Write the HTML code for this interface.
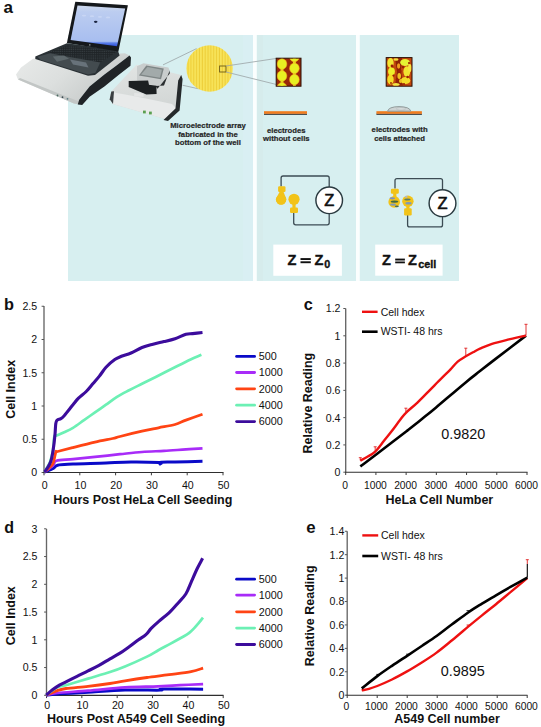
<!DOCTYPE html><html><head><meta charset="utf-8"><style>html,body{margin:0;padding:0;background:#fff;overflow:hidden;}svg{display:block;}text{font-family:"Liberation Sans",sans-serif;}</style></head><body><svg width="541" height="727" viewBox="0 0 541 727"><rect width="541" height="727" fill="#fff"/><text x="3.4" y="13.4" font-family="'Liberation Sans', sans-serif" font-weight="bold" font-size="17" fill="#111">a</text>
<rect x="68" y="35" width="391" height="246" fill="#d7eff0"/>
<rect x="243" y="35" width="10" height="246" fill="#d9eff3"/>
<rect x="257" y="35" width="6" height="246" fill="#d6ecec"/>
<rect x="253" y="35" width="3.8" height="246" fill="#fbfefe"/>
<rect x="356" y="35" width="3.8" height="246" fill="#fbfefe"/>
<defs><linearGradient id="dockg" x1="0" y1="0" x2="1" y2="0.5"><stop offset="0" stop-color="#e9ebea"/><stop offset="0.5" stop-color="#dcdfde"/><stop offset="1" stop-color="#c4c8c7"/></linearGradient><linearGradient id="scrg" x1="0" y1="0" x2="0" y2="1"><stop offset="0" stop-color="#cfdaee"/><stop offset="0.15" stop-color="#bccdf0"/><stop offset="0.88" stop-color="#a8bef0"/><stop offset="0.92" stop-color="#5a7ee8"/><stop offset="1" stop-color="#2c4cd8"/></linearGradient><linearGradient id="instg" x1="0" y1="0" x2="0.2" y2="1"><stop offset="0" stop-color="#e2e5e4"/><stop offset="1" stop-color="#d0d4d3"/></linearGradient><pattern id="stripes" x="0.5" width="2.85" height="10" patternUnits="userSpaceOnUse"><rect width="2.85" height="10" fill="#f8e45a"/><rect x="1.8" width="1.0" height="10" fill="#edcc36"/></pattern><pattern id="keys" width="2.2" height="2.2" patternUnits="userSpaceOnUse"><rect width="2.2" height="2.2" fill="#1e2326"/><rect x="0.3" y="0.3" width="1.3" height="1.2" fill="#363e42"/></pattern></defs>
<polygon points="16,74.5 21,67.5 33,58.8 125,53.2 129.5,55.4 125,59 116.2,65.7 104.4,74.6 89.6,86.4 79.2,99.7 77.7,104 74,103.5 18,79.5" fill="url(#dockg)"/>
<polygon points="18,79.5 74,103.5 77.7,104 79,101.5 20,78" fill="#c2c6c5"/>
<circle cx="57.5" cy="95.5" r="0.9" fill="#4a6a60"/>
<circle cx="62.5" cy="97.2" r="0.9" fill="#3a4a50"/>
<circle cx="67.5" cy="98.8" r="0.9" fill="#5a7a80"/>
<polygon points="129.5,55.4 131,57.5 130.5,65.7 119.2,74.6 104.4,86.4 89.6,96.8 82.2,104.9 77.7,104.6 79.2,99.7 89.6,86.4 104.4,74.6 116.2,65.7 125,59" fill="#202427"/>
<polygon points="35.3,56.4 66.9,43.3 117.8,50.3 119.6,55.6 95,74.9 88,75.8 35.3,59.1" fill="#2a3135"/>
<polygon points="47.6,52 68,45.2 116.5,51.8 108,58 100.2,62.6 60,55.2" fill="url(#keys)"/>
<polygon points="37.5,56.8 50,53.2 60,55.2 100.2,62.6 95.5,72.8 88,74.6 40.5,59.8" fill="#434b4f"/>
<polygon points="52.8,56.4 64,55.6 69,58.8 57,61.7" fill="#5e686c"/>
<polygon points="70,59.5 86,62.4 88.5,67.5 73,64.5" fill="#68727a"/>
<polygon points="75.3,1.7 127.9,5.3 118.4,51.6 66.9,43" fill="#15181b"/>
<polygon points="77.5,5.6 125.2,8.4 117,46.2 70.6,40" fill="url(#scrg)"/>
<ellipse cx="95.7" cy="21.8" rx="1.8" ry="1.1" fill="#1a2440"/>
<ellipse cx="84" cy="15.6" rx="2.2" ry="0.9" fill="#c8d6f4"/>
<ellipse cx="92" cy="16.2" rx="2.2" ry="0.9" fill="#c8d6f4"/>
<ellipse cx="100" cy="16.8" rx="2.2" ry="0.9" fill="#c8d6f4"/>
<ellipse cx="108" cy="17.4" rx="2.2" ry="0.9" fill="#c8d6f4"/>
<circle cx="89.8" cy="44.9" r="0.8" fill="#8a9090"/>
<polygon points="136.4,64.7 171,72.6 181.2,74.9 182,78.9 178.8,110.3 167.8,119.7 112.9,104 109.7,99.3 111.3,91.4" fill="url(#instg)"/>
<path d="M111.3,92 Q140,97 172,104 L176,108 L167.8,119.7 L112.9,104 L109.7,99.3 Z" fill="#e8eaea"/>
<polygon points="181.2,74.9 182.6,79 179.6,110.6 168,121 163.5,120 175.5,108.5 178.2,80.5" fill="#25292b"/>
<polygon points="111.3,91.4 114,91.2 113,104 109.7,99.3" fill="#3a3f42"/>
<polygon points="137,66.3 143.5,63.2 168.4,67.5 169.6,70.5 164,85.5 155.5,86 137,80.5" fill="#c9cdcd"/>
<polygon points="169.6,70.5 169.8,73.5 157.5,88.8 155.5,86 164,85.5" fill="#2a2e30"/>
<polygon points="146.3,65.4 163.8,68.6 161,79.3 138.9,75.6" fill="#7e8686"/>
<polygon points="147.5,67 162,69.8 159.8,77.8 141,74.6" fill="#a2aaaa"/>
<polygon points="128.7,81.1 148.1,80.6 149,84.8 156.4,85.7 156.6,94 146.3,94.5 128.7,87" fill="#1c2022"/>
<polygon points="134.2,93 143.5,93.5 143.5,96.8 134.2,96.4" fill="#e4e6e6"/>
<rect x="143" y="110.6" width="2.8" height="2.8" fill="#5aa050"/><rect x="149" y="111.6" width="2.8" height="2.8" fill="#5aa050"/>
<line x1="163" y1="64.9" x2="196.6" y2="48.6" stroke="#a2acae" stroke-width="0.9"/>
<line x1="182.4" y1="85.2" x2="198.6" y2="88.8" stroke="#a2acae" stroke-width="0.9"/>
<circle cx="209.6" cy="68.5" r="23.2" fill="url(#stripes)"/>
<rect x="219.6" y="66" width="6.4" height="6" fill="none" stroke="#6a5a18" stroke-width="0.9"/>
<line x1="226" y1="66" x2="276" y2="58.5" stroke="#a2acae" stroke-width="0.9"/>
<line x1="226" y1="72" x2="276" y2="84.4" stroke="#a2acae" stroke-width="0.9"/>
<defs><clipPath id="sq1"><rect x="276.7" y="58.7" width="23.8" height="27"/></clipPath></defs>
<rect x="276.2" y="58.2" width="24.8" height="28" fill="#98280a" stroke="#2a1004" stroke-width="1"/>
<g clip-path="url(#sq1)">
<rect x="280.6" y="58" width="2.8" height="29" fill="#e8f022"/><rect x="293" y="58" width="2.8" height="29" fill="#e8f022"/>
<ellipse cx="282" cy="64.1" rx="4.9" ry="5.3" fill="#e8f022" stroke="#f29a1c" stroke-width="0.5"/>
<ellipse cx="282" cy="75.9" rx="4.9" ry="5.3" fill="#e8f022" stroke="#f29a1c" stroke-width="0.5"/>
<ellipse cx="282" cy="87.7" rx="4.9" ry="5.3" fill="#e8f022" stroke="#f29a1c" stroke-width="0.5"/>
<ellipse cx="294.4" cy="56.6" rx="4.9" ry="5.3" fill="#e8f022" stroke="#f29a1c" stroke-width="0.5"/>
<ellipse cx="294.4" cy="68.3" rx="4.9" ry="5.3" fill="#e8f022" stroke="#f29a1c" stroke-width="0.5"/>
<ellipse cx="294.4" cy="79.6" rx="4.9" ry="5.3" fill="#e8f022" stroke="#f29a1c" stroke-width="0.5"/>
</g>
<defs><clipPath id="sq2"><rect x="386.7" y="58.1" width="24.8" height="27.6"/></clipPath></defs>
<rect x="386.2" y="57.6" width="25.8" height="28.6" fill="#c4480e" stroke="#2a1004" stroke-width="1"/>
<g clip-path="url(#sq2)">
<path d="M395,58 L402,58 L401,70 L403,86 L395,86 L397,72 Z" fill="#8e2206"/>
<ellipse cx="390.5" cy="63" rx="3.2" ry="5" fill="#f2e632"/>
<ellipse cx="391.5" cy="71.5" rx="3.4" ry="4" fill="#eef02a"/>
<ellipse cx="390.5" cy="79.5" rx="3.2" ry="5" fill="#f4dc26"/>
<ellipse cx="396" cy="84.5" rx="3.5" ry="1.6" fill="#f2e844"/>
<ellipse cx="405" cy="62.5" rx="4.8" ry="3.4" fill="#e6f234"/>
<ellipse cx="406.8" cy="71.5" rx="3.4" ry="5.2" fill="#f2e430"/>
<ellipse cx="405.5" cy="80.5" rx="4.8" ry="3.6" fill="#f4dc28"/>
<ellipse cx="398.6" cy="66" rx="1.6" ry="2.8" fill="#f0a020"/>
<ellipse cx="399.2" cy="76" rx="1.8" ry="3" fill="#f0c020"/>
<ellipse cx="409.8" cy="68" rx="1.8" ry="4" fill="#f8e440"/>
<ellipse cx="396" cy="59.5" rx="2.5" ry="1.3" fill="#f4e040"/>
<ellipse cx="400.5" cy="81" rx="1.5" ry="2" fill="#f0c020"/>
<circle cx="392" cy="66" r="1.4" fill="#9a2004"/>
<circle cx="400" cy="71" r="1.6" fill="#9a2004"/>
<circle cx="397" cy="79.5" r="1.3" fill="#9a2004"/>
<circle cx="407.5" cy="77" r="1.2" fill="#9a2004"/>
<circle cx="403" cy="67" r="1.3" fill="#9a2004"/>
<circle cx="393.5" cy="75.5" r="1" fill="#9a2004"/>
<circle cx="409" cy="63" r="1.1" fill="#9a2004"/>
<circle cx="391" cy="83" r="0.9" fill="#9a2004"/>
<circle cx="404" cy="84" r="1" fill="#9a2004"/>
</g>
<rect x="264" y="113.5" width="43" height="1.4" fill="#3e3e3e"/>
<rect x="264" y="111.2" width="43" height="2.6" fill="#f07c1e"/>
<rect x="376.4" y="113.5" width="45.5" height="1.4" fill="#3e3e3e"/>
<rect x="376.4" y="111.2" width="45.5" height="2.6" fill="#f07c1e"/>
<path d="M387.6,111.2 Q388.5,106.8 399,106.6 Q409.8,106.8 410.8,111.2 Z" fill="#cdd3d3" stroke="#8a9494" stroke-width="0.9"/>
<ellipse cx="401" cy="108.9" rx="4.5" ry="1.1" fill="#e2e6e6" stroke="#9aa2a2" stroke-width="0.5"/>
<text x="208" y="128" font-family="'Liberation Sans', sans-serif" font-weight="bold" font-size="7.7" fill="#262626" stroke="#262626" stroke-width="0.2" text-anchor="middle">Microelectrode array</text>
<text x="208" y="136.6" font-family="'Liberation Sans', sans-serif" font-weight="bold" font-size="7.7" fill="#262626" stroke="#262626" stroke-width="0.2" text-anchor="middle">fabricated in the</text>
<text x="208" y="145.3" font-family="'Liberation Sans', sans-serif" font-weight="bold" font-size="7.7" fill="#262626" stroke="#262626" stroke-width="0.2" text-anchor="middle">bottom of the well</text>
<text x="286.3" y="132.5" font-family="'Liberation Sans', sans-serif" font-weight="bold" font-size="7.7" fill="#262626" stroke="#262626" stroke-width="0.2" text-anchor="middle">electrodes</text>
<text x="286.3" y="140.8" font-family="'Liberation Sans', sans-serif" font-weight="bold" font-size="7.7" fill="#262626" stroke="#262626" stroke-width="0.2" text-anchor="middle">without cells</text>
<text x="399.6" y="132.4" font-family="'Liberation Sans', sans-serif" font-weight="bold" font-size="7.7" fill="#262626" stroke="#262626" stroke-width="0.2" text-anchor="middle">electrodes with</text>
<text x="399.6" y="141.2" font-family="'Liberation Sans', sans-serif" font-weight="bold" font-size="7.7" fill="#262626" stroke="#262626" stroke-width="0.2" text-anchor="middle">cells attached</text>
<path d="M281.1,186.5 V178 Q281.1,176 283.1,176 H327.2 Q329.2,176 329.2,178 V187" fill="none" stroke="#3c4c54" stroke-width="1.3"/>
<path d="M329.2,213.6 V222.8 Q329.2,224.8 327.2,224.8 H295.7 Q293.7,224.8 293.7,222.8 V212" fill="none" stroke="#3c4c54" stroke-width="1.3"/>
<circle cx="329.2" cy="200.3" r="13.3" fill="#ffffff" stroke="#2a3a40" stroke-width="1.45"/>
<text x="329.2" y="206.4" font-family="'Liberation Sans', sans-serif" font-size="16.5" fill="#111" stroke="#111" stroke-width="0.55" text-anchor="middle">Z</text>
<rect x="278.1" y="186.3" width="7.4" height="5.6" rx="1.2" fill="#f2c318"/>
<path d="M280,191 H283.2 L286.3,199 A5.2,5.6 0 1 1 275.9,199 Z" fill="#f2c318"/>
<circle cx="281.1" cy="199.6" r="5.2" fill="#f2c318"/>
<circle cx="294" cy="199.3" r="5.6" fill="#f2c318"/>
<rect x="292.4" y="203" width="3.2" height="5" fill="#f2c318"/>
<rect x="290" y="207.6" width="8" height="5.3" rx="1.2" fill="#f2c318"/>
<path d="M395,188.6 V180.6 Q395,178.6 397,178.6 H440.5 Q442.5,178.6 442.5,180.6 V190" fill="none" stroke="#3c4c54" stroke-width="1.3"/>
<path d="M442.5,216.5 V224.9 Q442.5,226.9 440.5,226.9 H409.6 Q407.6,226.9 407.6,224.9 V215" fill="none" stroke="#3c4c54" stroke-width="1.3"/>
<circle cx="442.5" cy="203.2" r="13.4" fill="#ffffff" stroke="#2a3a40" stroke-width="1.45"/>
<text x="442.5" y="209.3" font-family="'Liberation Sans', sans-serif" font-size="16.5" fill="#111" stroke="#111" stroke-width="0.55" text-anchor="middle">Z</text>
<rect x="390.9" y="188.7" width="7.9" height="5" rx="1.2" fill="#f2c318"/>
<rect x="393.2" y="193" width="3.2" height="4" fill="#f2c318"/>
<circle cx="394.2" cy="201.9" r="5.8" fill="#f2c318"/>
<circle cx="407.9" cy="201.3" r="5.7" fill="#f2c318"/>
<rect x="406.3" y="205" width="3.2" height="4" fill="#f2c318"/>
<rect x="404.1" y="208.2" width="7.6" height="7.2" rx="1.2" fill="#f2c318"/>
<ellipse cx="392.3" cy="198.3" rx="2.8" ry="1.1" fill="#7c90c0"/>
<ellipse cx="394.5" cy="201.6" rx="3.8" ry="1.2" fill="#3e6a48"/>
<ellipse cx="393" cy="204.6" rx="3" ry="1.2" fill="#7f9ab8"/>
<ellipse cx="396.8" cy="206.3" rx="2" ry="0.9" fill="#4a6a50"/>
<ellipse cx="407.5" cy="199.5" rx="3.2" ry="1.1" fill="#5a7a68"/>
<ellipse cx="408.5" cy="203.3" rx="3.2" ry="1.3" fill="#7f9ab8"/>
<ellipse cx="406.2" cy="196.8" rx="1.4" ry="1" fill="#b0b8c8"/>
<rect x="273.3" y="244.6" width="68.6" height="31.2" fill="#ffffff"/>
<rect x="375.2" y="244.6" width="67.4" height="31.1" fill="#ffffff"/>
<text x="287.6" y="264.9" font-family="'Liberation Sans', sans-serif" font-weight="bold" font-size="14.6" fill="#111" stroke="#111" stroke-width="0.35">Z</text>
<text x="314.6" y="264.9" font-family="'Liberation Sans', sans-serif" font-weight="bold" font-size="14.6" fill="#111" stroke="#111" stroke-width="0.35">Z</text>
<rect x="300.5" y="258.1" width="10.3" height="1.9" fill="#111"/><rect x="300.5" y="261.3" width="10.3" height="1.9" fill="#111"/>
<text x="324.2" y="268.1" font-family="'Liberation Sans', sans-serif" font-weight="bold" font-size="10.8" fill="#111" stroke="#111" stroke-width="0.35">0</text>
<text x="382.1" y="264.9" font-family="'Liberation Sans', sans-serif" font-weight="bold" font-size="14.6" fill="#111" stroke="#111" stroke-width="0.35">Z</text>
<text x="408" y="264.9" font-family="'Liberation Sans', sans-serif" font-weight="bold" font-size="14.6" fill="#111" stroke="#111" stroke-width="0.35">Z</text>
<rect x="395.2" y="258.6" width="9.7" height="1.9" fill="#111"/><rect x="395.2" y="261.5" width="9.7" height="1.8" fill="#111"/>
<text x="418.2" y="267.9" font-family="'Liberation Sans', sans-serif" font-weight="bold" font-size="10.9" fill="#111" stroke="#111" stroke-width="0.35">cell</text>
<text x="4" y="310.4" font-family="'Liberation Sans', sans-serif" font-weight="bold" font-size="16.3" fill="#111">b</text>
<line x1="44" y1="306" x2="44" y2="472.5" stroke="#666" stroke-width="1.35"/>
<line x1="41.6" y1="472.5" x2="44" y2="472.5" stroke="#555" stroke-width="1"/>
<text x="37.2" y="476.4" font-family="'Liberation Sans', sans-serif" font-size="10.6" fill="#111" text-anchor="end">0</text>
<line x1="41.6" y1="439.25" x2="44" y2="439.25" stroke="#555" stroke-width="1"/>
<text x="37.2" y="443.1" font-family="'Liberation Sans', sans-serif" font-size="10.6" fill="#111" text-anchor="end">0.5</text>
<line x1="41.6" y1="406.0" x2="44" y2="406.0" stroke="#555" stroke-width="1"/>
<text x="37.2" y="409.9" font-family="'Liberation Sans', sans-serif" font-size="10.6" fill="#111" text-anchor="end">1</text>
<line x1="41.6" y1="372.75" x2="44" y2="372.75" stroke="#555" stroke-width="1"/>
<text x="37.2" y="376.6" font-family="'Liberation Sans', sans-serif" font-size="10.6" fill="#111" text-anchor="end">1.5</text>
<line x1="41.6" y1="339.5" x2="44" y2="339.5" stroke="#555" stroke-width="1"/>
<text x="37.2" y="343.4" font-family="'Liberation Sans', sans-serif" font-size="10.6" fill="#111" text-anchor="end">2</text>
<line x1="41.6" y1="306.25" x2="44" y2="306.25" stroke="#555" stroke-width="1"/>
<text x="37.2" y="310.1" font-family="'Liberation Sans', sans-serif" font-size="10.6" fill="#111" text-anchor="end">2.5</text>
<line x1="43.4" y1="472.5" x2="223.5" y2="472.5" stroke="#2e2e2e" stroke-width="1.15"/>
<line x1="44.0" y1="472.5" x2="44.0" y2="475.3" stroke="#3a3a3a" stroke-width="1"/>
<text x="44.6" y="489" font-family="'Liberation Sans', sans-serif" font-size="10.6" fill="#111" text-anchor="middle">0</text>
<line x1="79.8" y1="472.5" x2="79.8" y2="475.3" stroke="#3a3a3a" stroke-width="1"/>
<text x="80.4" y="489" font-family="'Liberation Sans', sans-serif" font-size="10.6" fill="#111" text-anchor="middle">10</text>
<line x1="115.6" y1="472.5" x2="115.6" y2="475.3" stroke="#3a3a3a" stroke-width="1"/>
<text x="116.2" y="489" font-family="'Liberation Sans', sans-serif" font-size="10.6" fill="#111" text-anchor="middle">20</text>
<line x1="151.4" y1="472.5" x2="151.4" y2="475.3" stroke="#3a3a3a" stroke-width="1"/>
<text x="152.0" y="489" font-family="'Liberation Sans', sans-serif" font-size="10.6" fill="#111" text-anchor="middle">30</text>
<line x1="187.2" y1="472.5" x2="187.2" y2="475.3" stroke="#3a3a3a" stroke-width="1"/>
<text x="187.8" y="489" font-family="'Liberation Sans', sans-serif" font-size="10.6" fill="#111" text-anchor="middle">40</text>
<line x1="223.0" y1="472.5" x2="223.0" y2="475.3" stroke="#3a3a3a" stroke-width="1"/>
<text x="223.6" y="489" font-family="'Liberation Sans', sans-serif" font-size="10.6" fill="#111" text-anchor="middle">50</text>
<path d="M44.4,472.0 C45.9,471.4 51.0,469.6 53.2,468.5 C55.4,467.4 54.3,465.9 57.6,465.2 C60.9,464.5 64.9,464.5 73.0,464.1 C81.1,463.7 96.3,463.4 106.0,463.0 C115.7,462.6 122.2,462.1 131.0,462.0 C139.8,461.9 154.2,462.3 159.0,462.6 C163.8,462.9 159.7,464.1 160.0,464.0 C160.3,463.9 158.5,462.6 161.0,462.3 C163.5,462.0 168.1,462.2 175.0,462.0 C181.9,461.8 197.9,461.4 202.5,461.3" fill="none" stroke="#0a0ac8" stroke-width="3.0" stroke-linejoin="round" stroke-linecap="butt"/>
<path d="M44.4,472.0 C45.9,470.9 51.2,467.1 53.2,465.2 C55.2,463.3 53.2,461.8 56.5,460.8 C59.8,459.8 66.6,459.8 73.0,459.1 C79.4,458.5 87.2,457.7 95.0,456.9 C102.8,456.1 112.2,455.0 120.0,454.2 C127.8,453.4 134.7,452.6 142.0,452.0 C149.3,451.4 156.7,451.3 164.0,450.9 C171.3,450.5 179.6,449.8 186.0,449.4 C192.4,449.0 199.8,448.5 202.5,448.3" fill="none" stroke="#a82cf8" stroke-width="2.7" stroke-linejoin="round" stroke-linecap="butt"/>
<path d="M44.4,472.0 C45.2,471.3 47.5,469.5 49.0,468.0 C50.5,466.5 52.1,465.7 53.2,463.0 C54.3,460.3 55.1,453.9 55.8,452.0 C56.5,450.1 54.7,452.2 57.6,451.5 C60.5,450.8 66.8,449.2 73.0,447.6 C79.2,446.0 88.4,443.6 95.0,442.1 C101.6,440.6 108.4,439.4 112.6,438.5 C116.8,437.6 115.1,437.7 120.0,436.5 C124.9,435.3 135.6,432.6 142.0,431.1 C148.4,429.7 153.0,428.9 158.5,427.8 C164.0,426.7 170.4,425.8 175.0,424.5 C179.6,423.2 181.4,421.8 186.0,420.1 C190.6,418.4 199.8,415.2 202.5,414.2" fill="none" stroke="#ff4414" stroke-width="2.8" stroke-linejoin="round" stroke-linecap="butt"/>
<path d="M44.4,472.0 C45.3,470.3 48.6,465.7 50.0,462.0 C51.4,458.3 52.3,454.2 53.0,450.0 C53.7,445.8 53.7,439.0 54.3,436.6 C54.9,434.2 54.9,436.2 56.5,435.5 C58.1,434.8 61.5,433.5 64.2,432.2 C67.0,430.9 69.7,429.8 73.0,427.8 C76.3,425.8 80.3,422.7 84.0,420.1 C87.7,417.5 91.3,415.0 95.0,412.4 C98.7,409.8 102.3,407.3 106.0,404.7 C109.7,402.1 113.2,399.3 117.0,396.9 C120.8,394.5 124.9,392.5 129.1,390.3 C133.3,388.1 136.2,386.7 142.0,383.8 C147.8,380.9 156.7,376.5 164.0,372.8 C171.3,369.1 179.8,364.8 186.0,361.8 C192.2,358.8 198.8,356.0 201.4,354.8" fill="none" stroke="#6cf0b4" stroke-width="2.7" stroke-linejoin="round" stroke-linecap="butt"/>
<path d="M44.4,472.0 C45.0,471.2 46.9,468.9 48.0,467.0 C49.1,465.1 50.1,463.7 51.0,460.8 C51.9,457.9 52.5,454.2 53.2,449.8 C53.9,445.4 54.6,438.8 55.0,434.4 C55.4,430.0 55.4,425.8 55.8,423.4 C56.2,421.0 56.4,420.9 57.2,420.1 C58.1,419.3 59.7,419.3 60.9,418.6 C62.1,417.9 62.9,417.1 64.2,415.7 C65.5,414.3 67.1,412.0 68.6,410.2 C70.1,408.4 71.3,406.7 73.0,404.7 C74.7,402.7 76.3,400.3 78.5,398.1 C80.7,395.9 83.8,393.9 86.2,391.5 C88.6,389.1 90.6,386.4 92.8,383.8 C95.0,381.2 97.2,378.9 99.4,376.1 C101.6,373.4 103.4,370.1 106.0,367.3 C108.6,364.6 112.2,361.4 114.8,359.6 C117.4,357.8 118.7,357.4 121.4,356.3 C124.1,355.2 127.6,354.5 131.0,353.0 C134.4,351.5 138.3,349.0 142.0,347.5 C145.7,346.0 149.3,345.2 153.0,344.2 C156.7,343.2 160.3,342.5 164.0,341.6 C167.7,340.7 171.3,339.9 175.0,338.7 C178.7,337.5 183.1,335.1 186.0,334.3 C188.9,333.5 189.8,333.9 192.6,333.6 C195.3,333.3 200.8,332.7 202.5,332.5" fill="none" stroke="#3c0c9c" stroke-width="3.1" stroke-linejoin="round" stroke-linecap="butt"/>
<line x1="236.6" y1="356.4" x2="254.6" y2="356.4" stroke="#0a0ac8" stroke-width="2.8" stroke-linecap="round"/>
<text x="258.8" y="360.2" font-family="'Liberation Sans', sans-serif" font-size="10.8" fill="#111">500</text>
<line x1="236.6" y1="372.5" x2="254.6" y2="372.5" stroke="#a82cf8" stroke-width="2.8" stroke-linecap="round"/>
<text x="258.8" y="376.3" font-family="'Liberation Sans', sans-serif" font-size="10.8" fill="#111">1000</text>
<line x1="236.6" y1="388.8" x2="254.6" y2="388.8" stroke="#ff4414" stroke-width="2.8" stroke-linecap="round"/>
<text x="258.8" y="392.6" font-family="'Liberation Sans', sans-serif" font-size="10.8" fill="#111">2000</text>
<line x1="236.6" y1="405.2" x2="254.6" y2="405.2" stroke="#6cf0b4" stroke-width="2.8" stroke-linecap="round"/>
<text x="258.8" y="409.0" font-family="'Liberation Sans', sans-serif" font-size="10.8" fill="#111">4000</text>
<line x1="236.6" y1="421.6" x2="254.6" y2="421.6" stroke="#3c0c9c" stroke-width="2.8" stroke-linecap="round"/>
<text x="258.8" y="425.4" font-family="'Liberation Sans', sans-serif" font-size="10.8" fill="#111">6000</text>
<text x="15.2" y="389.3" font-family="'Liberation Sans', sans-serif" font-weight="bold" font-size="12.5" fill="#111" text-anchor="middle" transform="rotate(-90 15.2 389.3)">Cell Index</text>
<text x="142.8" y="504" font-family="'Liberation Sans', sans-serif" font-weight="bold" font-size="12.5" fill="#111" text-anchor="middle">Hours Post HeLa Cell Seeding</text>
<text x="303.8" y="310" font-family="'Liberation Sans', sans-serif" font-weight="bold" font-size="16.3" fill="#111">c</text>
<line x1="345.7" y1="308.5" x2="345.7" y2="472.2" stroke="#666" stroke-width="1.35"/>
<line x1="343.3" y1="472.2" x2="345.7" y2="472.2" stroke="#555" stroke-width="1"/>
<text x="340.5" y="476.1" font-family="'Liberation Sans', sans-serif" font-size="10.6" fill="#111" text-anchor="end">0</text>
<line x1="343.3" y1="444.91999999999996" x2="345.7" y2="444.91999999999996" stroke="#555" stroke-width="1"/>
<text x="340.5" y="448.8" font-family="'Liberation Sans', sans-serif" font-size="10.6" fill="#111" text-anchor="end">0.2</text>
<line x1="343.3" y1="417.64" x2="345.7" y2="417.64" stroke="#555" stroke-width="1"/>
<text x="340.5" y="421.5" font-family="'Liberation Sans', sans-serif" font-size="10.6" fill="#111" text-anchor="end">0.4</text>
<line x1="343.3" y1="390.36" x2="345.7" y2="390.36" stroke="#555" stroke-width="1"/>
<text x="340.5" y="394.3" font-family="'Liberation Sans', sans-serif" font-size="10.6" fill="#111" text-anchor="end">0.6</text>
<line x1="343.3" y1="363.08" x2="345.7" y2="363.08" stroke="#555" stroke-width="1"/>
<text x="340.5" y="367.0" font-family="'Liberation Sans', sans-serif" font-size="10.6" fill="#111" text-anchor="end">0.8</text>
<line x1="343.3" y1="335.79999999999995" x2="345.7" y2="335.79999999999995" stroke="#555" stroke-width="1"/>
<text x="340.5" y="339.7" font-family="'Liberation Sans', sans-serif" font-size="10.6" fill="#111" text-anchor="end">1</text>
<line x1="343.3" y1="308.52" x2="345.7" y2="308.52" stroke="#555" stroke-width="1"/>
<text x="340.5" y="312.4" font-family="'Liberation Sans', sans-serif" font-size="10.6" fill="#111" text-anchor="end">1.2</text>
<line x1="345.09999999999997" y1="472.2" x2="527.5" y2="472.2" stroke="#2e2e2e" stroke-width="1.15"/>
<line x1="345.7" y1="472.2" x2="345.7" y2="475.0" stroke="#3a3a3a" stroke-width="1"/>
<text x="345.2" y="489" font-family="'Liberation Sans', sans-serif" font-size="10.3" fill="#111" text-anchor="middle">0</text>
<line x1="375.917" y1="472.2" x2="375.917" y2="475.0" stroke="#3a3a3a" stroke-width="1"/>
<text x="375.4" y="489" font-family="'Liberation Sans', sans-serif" font-size="10.3" fill="#111" text-anchor="middle">1000</text>
<line x1="406.134" y1="472.2" x2="406.134" y2="475.0" stroke="#3a3a3a" stroke-width="1"/>
<text x="405.6" y="489" font-family="'Liberation Sans', sans-serif" font-size="10.3" fill="#111" text-anchor="middle">2000</text>
<line x1="436.351" y1="472.2" x2="436.351" y2="475.0" stroke="#3a3a3a" stroke-width="1"/>
<text x="435.9" y="489" font-family="'Liberation Sans', sans-serif" font-size="10.3" fill="#111" text-anchor="middle">3000</text>
<line x1="466.568" y1="472.2" x2="466.568" y2="475.0" stroke="#3a3a3a" stroke-width="1"/>
<text x="466.1" y="489" font-family="'Liberation Sans', sans-serif" font-size="10.3" fill="#111" text-anchor="middle">4000</text>
<line x1="496.78499999999997" y1="472.2" x2="496.78499999999997" y2="475.0" stroke="#3a3a3a" stroke-width="1"/>
<text x="496.3" y="489" font-family="'Liberation Sans', sans-serif" font-size="10.3" fill="#111" text-anchor="middle">5000</text>
<line x1="527.002" y1="472.2" x2="527.002" y2="475.0" stroke="#3a3a3a" stroke-width="1"/>
<text x="526.5" y="489" font-family="'Liberation Sans', sans-serif" font-size="10.3" fill="#111" text-anchor="middle">6000</text>
<path d="M360.3,466.4 C362.8,464.5 367.5,461.2 375.2,455.3 C382.9,449.4 398.9,437.1 406.5,431.2 C414.1,425.3 415.8,424.0 420.7,420.0 C425.6,416.0 428.6,413.7 436.1,407.4 C443.6,401.1 458.4,388.4 465.7,382.4 C473.0,376.3 475.1,375.0 480.0,371.1 C484.9,367.2 487.6,365.0 495.3,359.1 C503.0,353.2 520.9,339.5 526.0,335.6" fill="none" stroke="#000" stroke-width="2.6" stroke-linejoin="round" stroke-linecap="butt"/>
<path d="M360.3,460.6 C361.4,460.0 364.5,458.5 367.0,457.0 C369.5,455.5 372.4,454.3 375.2,451.6 C378.0,448.9 381.1,444.4 383.8,441.0 C386.5,437.6 388.9,434.8 391.6,431.3 C394.3,427.8 397.6,423.1 400.0,420.0 C402.4,416.9 402.9,415.8 405.9,412.8 C408.8,409.9 413.8,406.1 417.7,402.3 C421.6,398.6 425.7,394.3 429.6,390.3 C433.6,386.3 437.9,381.8 441.4,378.4 C444.8,374.9 447.6,372.4 450.3,369.6 C453.0,366.8 455.1,363.8 457.7,361.6 C460.3,359.4 463.2,357.9 465.8,356.3 C468.4,354.8 470.6,353.6 473.0,352.3 C475.4,351.0 476.8,350.0 480.0,348.6 C483.2,347.2 487.2,345.3 492.0,343.8 C496.8,342.3 503.2,340.8 508.9,339.4 C514.6,338.0 523.1,336.2 526.0,335.6" fill="none" stroke="#ee1111" stroke-width="2.4" stroke-linejoin="round" stroke-linecap="butt"/>
<line x1="360.3" y1="457.7" x2="360.3" y2="460.6" stroke="#e02020" stroke-width="0.9"/>
<line x1="358.8" y1="457.7" x2="361.8" y2="457.7" stroke="#e02020" stroke-width="0.9"/>
<line x1="375.2" y1="446.8" x2="375.2" y2="451.6" stroke="#e02020" stroke-width="0.9"/>
<line x1="373.7" y1="446.8" x2="376.7" y2="446.8" stroke="#e02020" stroke-width="0.9"/>
<line x1="405.9" y1="408.2" x2="405.9" y2="412.8" stroke="#e02020" stroke-width="0.9"/>
<line x1="404.4" y1="408.2" x2="407.4" y2="408.2" stroke="#e02020" stroke-width="0.9"/>
<line x1="465.8" y1="348.2" x2="465.8" y2="356.3" stroke="#e02020" stroke-width="0.9"/>
<line x1="464.3" y1="348.2" x2="467.3" y2="348.2" stroke="#e02020" stroke-width="0.9"/>
<line x1="526" y1="324.3" x2="526" y2="335.6" stroke="#e02020" stroke-width="0.9"/>
<line x1="524.5" y1="324.3" x2="527.5" y2="324.3" stroke="#e02020" stroke-width="0.9"/>
<line x1="362" y1="311.8" x2="377.6" y2="311.8" stroke="#ee1111" stroke-width="2.4"/>
<text x="380.7" y="315.5" font-family="'Liberation Sans', sans-serif" font-size="10.5" fill="#111">Cell hdex</text>
<line x1="362" y1="331.7" x2="377.6" y2="331.7" stroke="#000" stroke-width="2.6"/>
<text x="380.7" y="335.4" font-family="'Liberation Sans', sans-serif" font-size="10.5" fill="#111">WSTI- 48 hrs</text>
<text x="441.3" y="438.7" font-family="'Liberation Sans', sans-serif" font-size="14.4" fill="#111">0.9820</text>
<text x="312.2" y="403.2" font-family="'Liberation Sans', sans-serif" font-weight="bold" font-size="12.5" fill="#111" text-anchor="middle" transform="rotate(-90 312.2 403.2)">Relative Reading</text>
<text x="439.4" y="504" font-family="'Liberation Sans', sans-serif" font-weight="bold" font-size="12.5" fill="#111" text-anchor="middle">HeLa Cell Number</text>
<text x="4.2" y="532.8" font-family="'Liberation Sans', sans-serif" font-weight="bold" font-size="16" fill="#111">d</text>
<line x1="46.5" y1="529" x2="46.5" y2="695.3" stroke="#666" stroke-width="1.35"/>
<line x1="44.1" y1="695.3" x2="46.5" y2="695.3" stroke="#555" stroke-width="1"/>
<text x="37.4" y="699.2" font-family="'Liberation Sans', sans-serif" font-size="10.6" fill="#111" text-anchor="end">0</text>
<line x1="44.1" y1="667.55" x2="46.5" y2="667.55" stroke="#555" stroke-width="1"/>
<text x="37.4" y="671.4" font-family="'Liberation Sans', sans-serif" font-size="10.6" fill="#111" text-anchor="end">0.5</text>
<line x1="44.1" y1="639.8" x2="46.5" y2="639.8" stroke="#555" stroke-width="1"/>
<text x="37.4" y="643.7" font-family="'Liberation Sans', sans-serif" font-size="10.6" fill="#111" text-anchor="end">1</text>
<line x1="44.1" y1="612.05" x2="46.5" y2="612.05" stroke="#555" stroke-width="1"/>
<text x="37.4" y="615.9" font-family="'Liberation Sans', sans-serif" font-size="10.6" fill="#111" text-anchor="end">1.5</text>
<line x1="44.1" y1="584.3" x2="46.5" y2="584.3" stroke="#555" stroke-width="1"/>
<text x="37.4" y="588.2" font-family="'Liberation Sans', sans-serif" font-size="10.6" fill="#111" text-anchor="end">2</text>
<line x1="44.1" y1="556.55" x2="46.5" y2="556.55" stroke="#555" stroke-width="1"/>
<text x="37.4" y="560.4" font-family="'Liberation Sans', sans-serif" font-size="10.6" fill="#111" text-anchor="end">2.5</text>
<line x1="44.1" y1="528.8" x2="46.5" y2="528.8" stroke="#555" stroke-width="1"/>
<text x="37.4" y="532.7" font-family="'Liberation Sans', sans-serif" font-size="10.6" fill="#111" text-anchor="end">3</text>
<line x1="45.9" y1="695.3" x2="223.5" y2="695.3" stroke="#2e2e2e" stroke-width="1.15"/>
<line x1="46.5" y1="695.3" x2="46.5" y2="698.0999999999999" stroke="#3a3a3a" stroke-width="1"/>
<text x="47.1" y="709.3" font-family="'Liberation Sans', sans-serif" font-size="10.6" fill="#111" text-anchor="middle">0</text>
<line x1="81.84" y1="695.3" x2="81.84" y2="698.0999999999999" stroke="#3a3a3a" stroke-width="1"/>
<text x="82.4" y="709.3" font-family="'Liberation Sans', sans-serif" font-size="10.6" fill="#111" text-anchor="middle">10</text>
<line x1="117.17999999999999" y1="695.3" x2="117.17999999999999" y2="698.0999999999999" stroke="#3a3a3a" stroke-width="1"/>
<text x="117.8" y="709.3" font-family="'Liberation Sans', sans-serif" font-size="10.6" fill="#111" text-anchor="middle">20</text>
<line x1="152.51999999999998" y1="695.3" x2="152.51999999999998" y2="698.0999999999999" stroke="#3a3a3a" stroke-width="1"/>
<text x="153.1" y="709.3" font-family="'Liberation Sans', sans-serif" font-size="10.6" fill="#111" text-anchor="middle">30</text>
<line x1="187.85999999999999" y1="695.3" x2="187.85999999999999" y2="698.0999999999999" stroke="#3a3a3a" stroke-width="1"/>
<text x="188.5" y="709.3" font-family="'Liberation Sans', sans-serif" font-size="10.6" fill="#111" text-anchor="middle">40</text>
<line x1="223.2" y1="695.3" x2="223.2" y2="698.0999999999999" stroke="#3a3a3a" stroke-width="1"/>
<text x="223.8" y="709.3" font-family="'Liberation Sans', sans-serif" font-size="10.6" fill="#111" text-anchor="middle">50</text>
<path d="M46.2,695.1 C48.0,694.9 50.2,694.5 57.2,694.0 C64.2,693.5 76.7,692.9 88.0,692.3 C99.3,691.6 113.0,690.5 125.0,690.1 C137.0,689.7 154.0,690.3 160.2,690.1 C166.4,689.9 155.2,689.1 162.4,689.0 C169.6,688.9 196.3,689.2 203.1,689.2" fill="none" stroke="#0a0ac8" stroke-width="3.0" stroke-linejoin="round" stroke-linecap="butt"/>
<path d="M46.2,695.1 C48.0,694.8 50.2,693.7 57.2,693.0 C64.2,692.3 76.7,691.6 88.0,690.7 C99.3,689.8 113.3,688.1 125.0,687.4 C136.7,686.7 148.8,686.7 158.0,686.3 C167.2,685.9 172.5,685.6 180.0,685.2 C187.5,684.8 199.2,684.3 203.1,684.1" fill="none" stroke="#a82cf8" stroke-width="2.7" stroke-linejoin="round" stroke-linecap="butt"/>
<path d="M46.2,695.1 C48.0,694.4 53.9,691.8 57.2,690.7 C60.5,689.6 60.9,689.2 66.0,688.5 C71.1,687.8 80.7,687.1 88.0,686.3 C95.3,685.5 103.8,684.4 110.0,683.5 C116.2,682.6 118.8,681.8 125.0,680.8 C131.2,679.8 139.7,678.5 147.0,677.5 C154.3,676.5 161.7,675.7 169.0,674.7 C176.3,673.7 185.3,672.7 191.0,671.6 C196.7,670.5 201.1,668.7 203.1,668.1" fill="none" stroke="#ff4414" stroke-width="2.8" stroke-linejoin="round" stroke-linecap="butt"/>
<path d="M46.2,695.1 C48.0,693.8 53.9,689.0 57.2,687.4 C60.5,685.8 60.9,686.7 66.0,685.2 C71.1,683.7 80.7,680.8 88.0,678.6 C95.3,676.4 103.8,674.0 110.0,672.0 C116.2,670.0 118.8,669.1 125.0,666.5 C131.2,663.9 141.4,659.3 147.0,656.6 C152.6,653.9 154.4,652.4 158.3,650.2 C162.2,648.0 166.2,646.0 170.6,643.6 C174.9,641.2 181.2,637.8 184.4,636.0 C187.6,634.2 187.9,633.9 189.5,632.6 C191.1,631.3 192.5,630.0 194.0,628.4 C195.5,626.8 197.1,625.0 198.6,623.2 C200.1,621.4 202.3,618.5 203.0,617.6" fill="none" stroke="#6cf0b4" stroke-width="2.7" stroke-linejoin="round" stroke-linecap="butt"/>
<path d="M46.2,695.1 C47.3,694.2 50.6,691.2 52.8,689.6 C55.0,688.0 57.2,686.5 59.4,685.2 C61.6,683.9 63.1,683.4 66.0,681.9 C68.9,680.4 73.3,678.2 77.0,676.4 C80.7,674.6 84.3,672.7 88.0,670.9 C91.7,669.1 95.3,667.4 99.0,665.4 C102.7,663.4 106.5,660.8 110.0,658.8 C113.5,656.8 116.8,655.1 120.0,653.1 C123.2,651.1 126.1,648.9 129.2,646.7 C132.3,644.5 135.7,641.7 138.5,639.7 C141.3,637.7 143.8,636.6 145.9,634.7 C148.1,632.8 149.2,630.4 151.4,628.2 C153.6,626.0 155.9,623.8 158.8,621.3 C161.7,618.8 165.9,615.8 169.0,612.9 C172.1,610.0 174.7,606.9 177.5,603.7 C180.3,600.6 183.5,597.6 185.8,594.0 C188.1,590.4 189.4,586.1 191.3,581.8 C193.2,577.5 195.6,571.9 197.5,568.0 C199.4,564.1 201.8,559.9 202.6,558.3" fill="none" stroke="#3c0c9c" stroke-width="3.1" stroke-linejoin="round" stroke-linecap="butt"/>
<line x1="236.6" y1="579.2" x2="254.6" y2="579.2" stroke="#0a0ac8" stroke-width="2.8" stroke-linecap="round"/>
<text x="258.8" y="583.0" font-family="'Liberation Sans', sans-serif" font-size="10.8" fill="#111">500</text>
<line x1="236.6" y1="595.1" x2="254.6" y2="595.1" stroke="#a82cf8" stroke-width="2.8" stroke-linecap="round"/>
<text x="258.8" y="598.9" font-family="'Liberation Sans', sans-serif" font-size="10.8" fill="#111">1000</text>
<line x1="236.6" y1="611.8" x2="254.6" y2="611.8" stroke="#ff4414" stroke-width="2.8" stroke-linecap="round"/>
<text x="258.8" y="615.6" font-family="'Liberation Sans', sans-serif" font-size="10.8" fill="#111">2000</text>
<line x1="236.6" y1="628.1" x2="254.6" y2="628.1" stroke="#6cf0b4" stroke-width="2.8" stroke-linecap="round"/>
<text x="258.8" y="631.9" font-family="'Liberation Sans', sans-serif" font-size="10.8" fill="#111">4000</text>
<line x1="236.6" y1="644.5" x2="254.6" y2="644.5" stroke="#3c0c9c" stroke-width="2.8" stroke-linecap="round"/>
<text x="258.8" y="648.3" font-family="'Liberation Sans', sans-serif" font-size="10.8" fill="#111">6000</text>
<text x="15.1" y="615.7" font-family="'Liberation Sans', sans-serif" font-weight="bold" font-size="12.5" fill="#111" text-anchor="middle" transform="rotate(-90 15.1 615.7)">Cell Index</text>
<text x="136.1" y="722.5" font-family="'Liberation Sans', sans-serif" font-weight="bold" font-size="12.5" fill="#111" text-anchor="middle">Hours Post A549 Cell Seeding</text>
<text x="306.2" y="533.2" font-family="'Liberation Sans', sans-serif" font-weight="bold" font-size="16.8" fill="#111">e</text>
<line x1="347.2" y1="531.2" x2="347.2" y2="695.2" stroke="#666" stroke-width="1.35"/>
<line x1="344.8" y1="695.2" x2="347.2" y2="695.2" stroke="#555" stroke-width="1"/>
<text x="344.3" y="699.1" font-family="'Liberation Sans', sans-serif" font-size="10.6" fill="#111" text-anchor="end">0</text>
<line x1="344.8" y1="671.7800000000001" x2="347.2" y2="671.7800000000001" stroke="#555" stroke-width="1"/>
<text x="344.3" y="675.7" font-family="'Liberation Sans', sans-serif" font-size="10.6" fill="#111" text-anchor="end">0.2</text>
<line x1="344.8" y1="648.36" x2="347.2" y2="648.36" stroke="#555" stroke-width="1"/>
<text x="344.3" y="652.3" font-family="'Liberation Sans', sans-serif" font-size="10.6" fill="#111" text-anchor="end">0.4</text>
<line x1="344.8" y1="624.94" x2="347.2" y2="624.94" stroke="#555" stroke-width="1"/>
<text x="344.3" y="628.8" font-family="'Liberation Sans', sans-serif" font-size="10.6" fill="#111" text-anchor="end">0.6</text>
<line x1="344.8" y1="601.52" x2="347.2" y2="601.52" stroke="#555" stroke-width="1"/>
<text x="344.3" y="605.4" font-family="'Liberation Sans', sans-serif" font-size="10.6" fill="#111" text-anchor="end">0.8</text>
<line x1="344.8" y1="578.1" x2="347.2" y2="578.1" stroke="#555" stroke-width="1"/>
<text x="344.3" y="582.0" font-family="'Liberation Sans', sans-serif" font-size="10.6" fill="#111" text-anchor="end">1</text>
<line x1="344.8" y1="554.6800000000001" x2="347.2" y2="554.6800000000001" stroke="#555" stroke-width="1"/>
<text x="344.3" y="558.6" font-family="'Liberation Sans', sans-serif" font-size="10.6" fill="#111" text-anchor="end">1.2</text>
<line x1="344.8" y1="531.2600000000001" x2="347.2" y2="531.2600000000001" stroke="#555" stroke-width="1"/>
<text x="344.3" y="535.2" font-family="'Liberation Sans', sans-serif" font-size="10.6" fill="#111" text-anchor="end">1.4</text>
<line x1="346.59999999999997" y1="695.2" x2="527.5" y2="695.2" stroke="#2e2e2e" stroke-width="1.15"/>
<line x1="347.2" y1="695.2" x2="347.2" y2="698.0" stroke="#3a3a3a" stroke-width="1"/>
<text x="346.4" y="710" font-family="'Liberation Sans', sans-serif" font-size="10.3" fill="#111" text-anchor="middle">0</text>
<line x1="377.2" y1="695.2" x2="377.2" y2="698.0" stroke="#3a3a3a" stroke-width="1"/>
<text x="376.4" y="710" font-family="'Liberation Sans', sans-serif" font-size="10.3" fill="#111" text-anchor="middle">1000</text>
<line x1="407.2" y1="695.2" x2="407.2" y2="698.0" stroke="#3a3a3a" stroke-width="1"/>
<text x="406.4" y="710" font-family="'Liberation Sans', sans-serif" font-size="10.3" fill="#111" text-anchor="middle">2000</text>
<line x1="437.2" y1="695.2" x2="437.2" y2="698.0" stroke="#3a3a3a" stroke-width="1"/>
<text x="436.4" y="710" font-family="'Liberation Sans', sans-serif" font-size="10.3" fill="#111" text-anchor="middle">3000</text>
<line x1="467.2" y1="695.2" x2="467.2" y2="698.0" stroke="#3a3a3a" stroke-width="1"/>
<text x="466.4" y="710" font-family="'Liberation Sans', sans-serif" font-size="10.3" fill="#111" text-anchor="middle">4000</text>
<line x1="497.2" y1="695.2" x2="497.2" y2="698.0" stroke="#3a3a3a" stroke-width="1"/>
<text x="496.4" y="710" font-family="'Liberation Sans', sans-serif" font-size="10.3" fill="#111" text-anchor="middle">5000</text>
<line x1="527.2" y1="695.2" x2="527.2" y2="698.0" stroke="#3a3a3a" stroke-width="1"/>
<text x="526.4" y="710" font-family="'Liberation Sans', sans-serif" font-size="10.3" fill="#111" text-anchor="middle">6000</text>
<line x1="527.3" y1="564" x2="527.3" y2="577.7" stroke="#000" stroke-width="1.1"/>
<line x1="376.4" y1="674.4000000000001" x2="379.6" y2="674.4000000000001" stroke="#000" stroke-width="0.9"/>
<line x1="406.2" y1="654.2" x2="409.40000000000003" y2="654.2" stroke="#000" stroke-width="0.9"/>
<line x1="466.5" y1="610.7" x2="469.70000000000005" y2="610.7" stroke="#000" stroke-width="0.9"/>
<path d="M361.7,690.4 C362.9,690.1 366.4,689.5 369.0,688.8 C371.6,688.1 373.5,687.5 377.3,686.0 C381.1,684.5 387.0,681.9 392.0,679.5 C397.0,677.1 402.1,674.2 407.1,671.4 C412.1,668.6 416.9,665.6 421.8,662.5 C426.7,659.4 431.5,656.4 436.6,652.6 C441.7,648.9 447.1,644.3 452.4,640.0 C457.7,635.7 463.3,630.8 468.2,626.7 C473.1,622.6 477.4,619.1 482.0,615.4 C486.6,611.6 491.1,608.2 496.0,604.2 C500.9,600.2 506.2,595.7 511.4,591.4 C516.6,587.1 524.6,580.4 527.3,578.2" fill="none" stroke="#ee1111" stroke-width="2.4" stroke-linejoin="round" stroke-linecap="butt"/>
<path d="M361.7,688.4 C364.3,686.4 372.2,679.9 377.3,676.1 C382.4,672.3 387.0,669.2 392.0,665.8 C397.0,662.4 402.1,659.1 407.1,655.8 C412.1,652.5 416.9,649.3 421.8,646.0 C426.7,642.7 431.7,639.5 436.6,636.0 C441.5,632.5 446.1,628.7 451.4,624.8 C456.7,620.9 463.1,616.0 468.2,612.5 C473.3,609.0 477.4,606.5 482.0,603.6 C486.6,600.7 491.1,598.2 496.0,595.3 C500.9,592.4 506.2,589.3 511.4,586.4 C516.6,583.5 524.6,579.2 527.3,577.7" fill="none" stroke="#000" stroke-width="2.6" stroke-linejoin="round" stroke-linecap="butt"/>
<line x1="527.3" y1="559.7" x2="527.3" y2="564" stroke="#e02020" stroke-width="0.9"/>
<line x1="525.8" y1="559.7" x2="528.8" y2="559.7" stroke="#e02020" stroke-width="0.9"/>
<line x1="468.1" y1="625" x2="468.1" y2="626.4" stroke="#e02020" stroke-width="0.9"/>
<line x1="466.6" y1="625" x2="469.6" y2="625" stroke="#e02020" stroke-width="0.9"/>
<line x1="362.3" y1="535.4" x2="378.2" y2="535.4" stroke="#ee1111" stroke-width="2.4"/>
<text x="381" y="539.1" font-family="'Liberation Sans', sans-serif" font-size="10.5" fill="#111">Cell hdex</text>
<line x1="362.3" y1="556" x2="378.2" y2="556" stroke="#000" stroke-width="2.6"/>
<text x="381" y="559.7" font-family="'Liberation Sans', sans-serif" font-size="10.5" fill="#111">WSTI- 48 hrs</text>
<text x="440.8" y="676.2" font-family="'Liberation Sans', sans-serif" font-size="14.4" fill="#111">0.9895</text>
<text x="314" y="615.8" font-family="'Liberation Sans', sans-serif" font-weight="bold" font-size="12.5" fill="#111" text-anchor="middle" transform="rotate(-90 314 615.8)">Relative Reading</text>
<text x="447" y="722.9" font-family="'Liberation Sans', sans-serif" font-weight="bold" font-size="12.5" fill="#111" text-anchor="middle">A549 Cell number</text></svg></body></html>
